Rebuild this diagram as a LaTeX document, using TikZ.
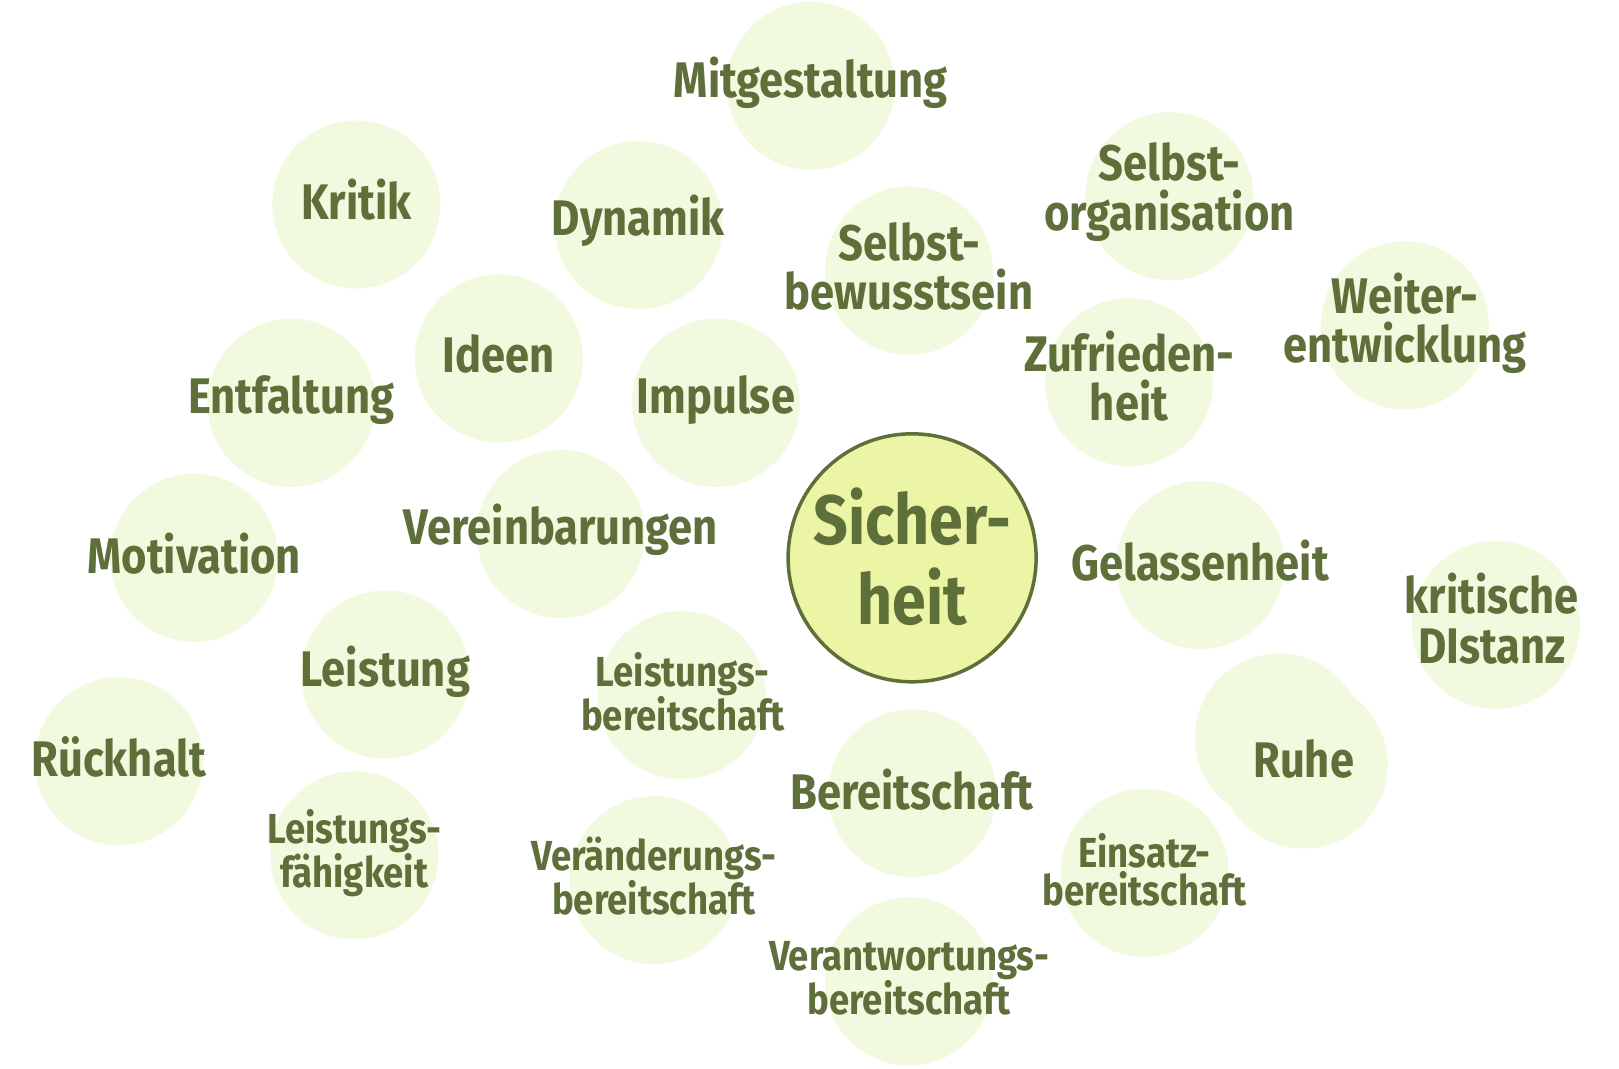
\documentclass[tikz,border=0pt]{standalone}
\usepackage{fontspec}
\setmainfont{Fira Sans}[FakeStretch=0.87]
\definecolor{txt}{HTML}{5F6F3A}
\definecolor{bub}{HTML}{F1FADE}
\definecolor{core}{HTML}{EBF5A5}
\begin{document}
\begin{tikzpicture}[x=1.033pt,y=-1.033pt,
  bubble/.style={circle,fill=bub,minimum size=168pt,inner sep=0pt},
  big/.style={text=txt,font=\bfseries\fontsize{50}{49.5}\selectfont,align=center,inner sep=0pt},
  mid/.style={text=txt,font=\bfseries\fontsize{42}{38}\selectfont,align=center,inner sep=0pt}]
\useasboundingbox (0,0) rectangle (1567.3,1033.9);
\fill[white] (0,0) rectangle (1567.3,1033.9);
% bubbles
\node[bubble] (cMit) at (785,83) {};
\node[bubble] (cKri) at (345,198) {};
\node[bubble] (cDyn) at (618,218) {};
\node[bubble] (cSbw) at (880,262) {};
\node[bubble] (cSor) at (1132,190) {};
\node[bubble] (cWei) at (1360,315) {};
\node[bubble] (cIde) at (483,347) {};
\node[bubble] (cImp) at (693,390) {};
\node[bubble] (cZuf) at (1093,370) {};
\node[bubble] (cEnt) at (282,390) {};
\node[bubble] (cMot) at (188,540) {};
\node[bubble] (cVer) at (543,517) {};
\node[bubble] (cGel) at (1162,547) {};
\node[bubble] (cKrd) at (1448,605) {};
\node[bubble] (cLei) at (373,653) {};
\node[bubble] (cLbs) at (660,673) {};
\node[bubble] (cRue) at (115,737) {};
\node[bubble] (cRu1) at (1238,714) {};
\node[bubble] (cRu2) at (1262,740) {};
\node[bubble] (cBer) at (883,768) {};
\node[bubble] (cLfk) at (343,828) {};
\node[bubble] (cVbs) at (633,852) {};
\node[bubble] (cEbs) at (1108,845) {};
\node[bubble] (cVwb) at (880,950) {};
% center
\node[circle,fill=core,draw=txt,line width=3.5pt,minimum size=248pt,inner sep=0pt] (cSic) at (883,540) {};
% texts
\node[big] (tMit) at (785,80) {Mitgestaltung};
\node[big] (tKri) at (345,193) {Kritik};
\node[big] (tDyn) at (618,214) {Dynamik};
\node[big] (tSbw) at (880,258) {Selbst-\\bewusstsein};
\node[big] (tSor) at (1132,186) {Selbst-\\organisation};
\node[big] (tWei) at (1360,313) {Weiter-\\entwicklung};
\node[big] (tIde) at (483,343) {Ideen};
\node[big] (tImp) at (693,387) {Impulse};
\node[big] (tZuf) at (1093,364) {Zufrieden-\\heit};
\node[big] (tEnt) at (282,387) {Entfaltung};
\node[big] (tMot) at (188,536) {Motivation};
\node[big] (tVer) at (543,513) {Vereinbarungen};
\node[text=txt,font=\bfseries\fontsize{70}{80}\selectfont,align=center,inner sep=0pt] (tSic) at (883,539) {Sicher-\\heit};
\node[big] (tGel) at (1162,543) {Gelassenheit};
\node[big] (tKrd) at (1444,599) {kritische\\DIstanz};
\node[big] (tLei) at (373,650) {Leistung};
\node[mid] (tLbs) at (661,670) {Leistungs-\\bereitschaft};
\node[big] (tRue) at (115,733) {Rückhalt};
\node[big] (tRuh) at (1262,735) {Ruhe};
\node[big] (tBer) at (883,764) {Bereitschaft};
\node[mid] (tLfk) at (343,826) {Leistungs-\\fähigkeit};
\node[mid] (tVbs) at (633,848) {Veränderungs-\\bereitschaft};
\node[mid] (tEbs) at (1108,842) {Einsatz-\\bereitschaft};
\node[mid] (tVwb) at (880,947) {Verantwortungs-\\bereitschaft};
\end{tikzpicture}
\end{document}
